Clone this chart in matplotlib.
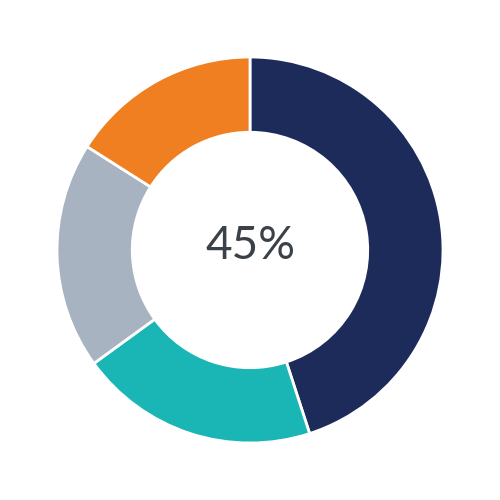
import matplotlib.pyplot as plt

# segment shares, clockwise from 12 o'clock
labels = ['Navy', 'Teal', 'Gray', 'Orange']
values = [45, 20, 19, 16]
colors = ['#1c2b5a', '#1ab5b5', '#a8b3c2', '#f07f22']
center_text = '45%'

fig = plt.figure(figsize=(5, 5), dpi=100)
ax = fig.add_axes([0, 0, 1, 1])

ax.pie(values, colors=colors, startangle=90, counterclock=False,
       radius=1.0,
       wedgeprops=dict(width=0.39, edgecolor='white', linewidth=2))

ax.text(0, 0.02, center_text, ha='center', va='center', fontsize=33,
        family='Lato', color='#3b4149')

lim = 250 / 193
ax.set_xlim(-lim, lim)
ax.set_ylim(-lim, lim)
ax.set_aspect('equal')
ax.axis('off')

fig.savefig('out.png', dpi=100, facecolor='white')
